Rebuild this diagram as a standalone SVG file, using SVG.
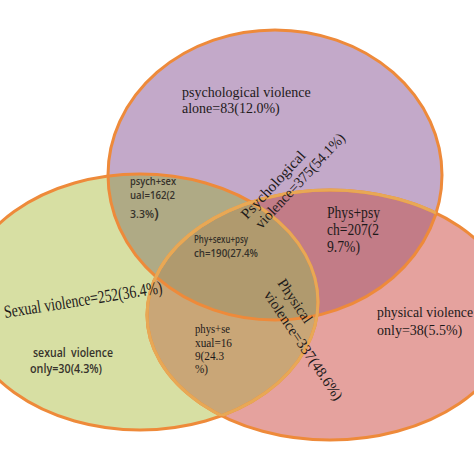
<svg xmlns="http://www.w3.org/2000/svg" width="474" height="474" viewBox="0 0 474 474">
<style>
.serif{font-family:"Liberation Serif","Times New Roman",serif;fill:#1e1a1a}
.sans{font-family:"Open Sans","Liberation Sans",Arial,sans-serif;font-weight:600;fill:#36322b}
.outer{fill:none;stroke:#EE8A3A;stroke-width:3}
.inner{fill:none;stroke:#E8A855;stroke-width:3}
</style>
<defs>
<clipPath id="cP"><ellipse cx="275" cy="175" rx="167" ry="145"/></clipPath>
<clipPath id="cG"><ellipse cx="140" cy="302" rx="178" ry="128"/></clipPath>
<clipPath id="cK"><ellipse cx="330" cy="315" rx="183" ry="125"/></clipPath>
</defs>
<rect width="474" height="474" fill="#ffffff"/>
<g id="fills">
<ellipse cx="275" cy="175" rx="167" ry="145" fill="#C3A9C9"/>
<ellipse cx="140" cy="302" rx="178" ry="128" fill="#D7DFA3"/>
<ellipse cx="330" cy="315" rx="183" ry="125" fill="#E5A29E"/>
<ellipse cx="140" cy="302" rx="178" ry="128" fill="#AFAA85" clip-path="url(#cP)"/>
<ellipse cx="330" cy="315" rx="183" ry="125" fill="#C27C87" clip-path="url(#cP)"/>
<ellipse cx="330" cy="315" rx="183" ry="125" fill="#C9A677" clip-path="url(#cG)"/>
<g clip-path="url(#cP)"><ellipse cx="330" cy="315" rx="183" ry="125" fill="#B09A6E" clip-path="url(#cG)"/></g>
</g>
<g id="outlines">
<ellipse class="outer" cx="275" cy="175" rx="167" ry="145"/>
<ellipse class="outer" cx="140" cy="302" rx="178" ry="128"/>
<ellipse class="outer" cx="330" cy="315" rx="183" ry="125"/>
<ellipse class="inner" cx="140" cy="302" rx="178" ry="128" clip-path="url(#cK)"/>
<ellipse class="inner" cx="330" cy="315" rx="183" ry="125" clip-path="url(#cG)"/>
<ellipse class="inner" cx="330" cy="315" rx="183" ry="125" clip-path="url(#cP)"/>
</g>
<g id="psychological">
<text class="serif" font-size="14" x="182" y="97">psychological violence</text>
<text class="serif" font-size="14" x="182" y="113">alone=83(12.0%)</text>
<g transform="translate(247,220) rotate(-47)">
<text class="serif" font-size="15" x="0" y="0" textLength="87" lengthAdjust="spacingAndGlyphs">Psychological</text>
<text class="serif" font-size="15" x="3" y="17" textLength="124" lengthAdjust="spacingAndGlyphs">violence=375(54.1%)</text>
</g>
</g>
<g id="sexual">
<text class="serif" font-size="18" transform="translate(5,318) rotate(-9)" textLength="160" lengthAdjust="spacingAndGlyphs">Sexual violence=252(36.4%)</text>
<text class="sans" font-size="12" x="33" y="357" textLength="80" lengthAdjust="spacingAndGlyphs">sexual&#160; violence</text>
<text class="sans" font-size="12" x="30" y="373" textLength="72" lengthAdjust="spacingAndGlyphs">only=30(4.3%)</text>
</g>
<g id="physical">
<text class="serif" font-size="14" x="377" y="317" textLength="96" lengthAdjust="spacingAndGlyphs">physical violence</text>
<text class="serif" font-size="14" x="377" y="335">only=38(5.5%)</text>
<g transform="translate(277,283) rotate(56)">
<text class="serif" font-size="15" x="0" y="0" textLength="50" lengthAdjust="spacingAndGlyphs">Physical</text>
<text class="serif" font-size="15" x="2" y="18" textLength="129" lengthAdjust="spacingAndGlyphs">violence=337(48.6%)</text>
</g>
</g>
<g id="psych-sexual">
<text class="sans" font-size="10" x="130" y="185" textLength="46" lengthAdjust="spacingAndGlyphs">psych+sex</text>
<text class="sans" font-size="10" x="130" y="199" textLength="45" lengthAdjust="spacingAndGlyphs">ual=162(2</text>
<text class="sans" font-size="10.5" x="130" y="218">3.3%<tspan font-size="15">)</tspan></text>
</g>
<g id="phys-psych">
<text class="serif" font-size="16" x="327" y="218" textLength="53" lengthAdjust="spacingAndGlyphs">Phys+psy</text>
<text class="serif" font-size="16" x="327" y="235" textLength="52" lengthAdjust="spacingAndGlyphs">ch=207(2</text>
<text class="serif" font-size="16" x="327" y="252" textLength="33" lengthAdjust="spacingAndGlyphs">9.7%)</text>
</g>
<g id="all-three">
<text class="sans" font-size="10" x="194" y="243" textLength="54" lengthAdjust="spacingAndGlyphs">Phy+sexu+psy</text>
<text class="sans" font-size="10" x="194" y="257" textLength="64" lengthAdjust="spacingAndGlyphs">ch=190(27.4%</text>
</g>
<g id="phys-sexual">
<text class="serif" font-size="12" x="195" y="333" textLength="35" lengthAdjust="spacingAndGlyphs">phys+se</text>
<text class="serif" font-size="12" x="195" y="347" textLength="37" lengthAdjust="spacingAndGlyphs">xual=16</text>
<text class="serif" font-size="12" x="195" y="360" textLength="29" lengthAdjust="spacingAndGlyphs">9(24.3</text>
<text class="serif" font-size="12" x="195" y="373" textLength="13" lengthAdjust="spacingAndGlyphs">%)</text>
</g>
</svg>
